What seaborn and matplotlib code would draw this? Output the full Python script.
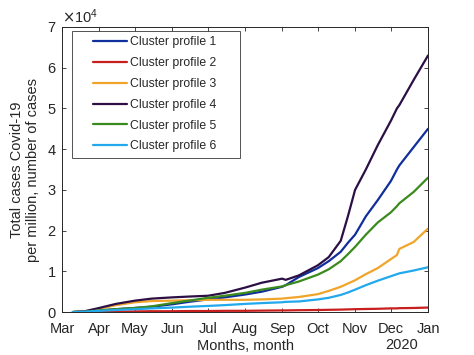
import matplotlib
matplotlib.use("Agg")
import matplotlib.pyplot as plt
import matplotlib.dates as mdates
from matplotlib.ticker import ScalarFormatter
from matplotlib.legend_handler import HandlerLine2D
from matplotlib.transforms import blended_transform_factory
import numpy as np
import pandas as pd
import seaborn as sns

# sample dates (shared by all profiles)
dates = ["2020-03-10", "2020-03-20", "2020-04-01", "2020-04-15", "2020-05-01",
         "2020-05-15", "2020-06-01", "2020-06-15", "2020-07-01", "2020-07-15",
         "2020-08-01", "2020-08-15", "2020-09-01", "2020-09-04", "2020-09-15",
         "2020-10-01", "2020-10-10", "2020-10-20", "2020-10-26", "2020-11-01",
         "2020-11-10", "2020-11-20", "2020-12-01", "2020-12-06", "2020-12-08",
         "2020-12-20", "2021-01-01"]

# total cases per million, in units of 1e4
profile1 = [0, 0.01, 0.04, 0.07, 0.1, 0.13, 0.19, 0.25, 0.31, 0.36, 0.43, 0.5, 0.62, 0.66,
            0.86, 1.08, 1.25, 1.48, 1.7, 1.9, 2.35, 2.75, 3.22, 3.5, 3.6, 4.05, 4.5]
profile2 = [0, 0, 0.005, 0.01, 0.015, 0.02, 0.02, 0.025, 0.025, 0.03, 0.03, 0.035, 0.04, 0.04,
            0.045, 0.05, 0.055, 0.06, 0.065, 0.07, 0.075, 0.08, 0.09, 0.09, 0.095, 0.1, 0.11]
profile3 = [0, 0.02, 0.08, 0.17, 0.24, 0.27, 0.28, 0.29, 0.3, 0.3, 0.3, 0.31, 0.33, 0.34,
            0.37, 0.44, 0.52, 0.62, 0.7, 0.78, 0.93, 1.08, 1.3, 1.4, 1.55, 1.72, 2.05]
profile4 = [0, 0.02, 0.1, 0.2, 0.28, 0.33, 0.36, 0.38, 0.4, 0.47, 0.6, 0.72, 0.82, 0.79,
            0.9, 1.15, 1.35, 1.75, 2.35, 3.0, 3.5, 4.1, 4.7, 5.0, 5.08, 5.7, 6.3]
profile5 = [0, 0.01, 0.04, 0.07, 0.1, 0.14, 0.22, 0.28, 0.35, 0.4, 0.47, 0.55, 0.63, 0.66,
            0.75, 0.92, 1.05, 1.25, 1.42, 1.6, 1.9, 2.2, 2.45, 2.6, 2.67, 2.95, 3.3]
profile6 = [0, 0.01, 0.03, 0.05, 0.07, 0.09, 0.11, 0.13, 0.15, 0.17, 0.2, 0.22, 0.24, 0.25,
            0.26, 0.31, 0.35, 0.42, 0.48, 0.55, 0.66, 0.77, 0.88, 0.93, 0.95, 1.02, 1.1]

names = ["Cluster profile 1", "Cluster profile 2", "Cluster profile 3",
         "Cluster profile 4", "Cluster profile 5", "Cluster profile 6"]
colors = ["#102e9c", "#c81e1e", "#f0a52a", "#2b0f45", "#3b8a1e", "#22a8ec"]


class LeadLine(HandlerLine2D):
    # legend line with empty space in front of it (matlab-like legend)
    lead = 1.25

    def create_artists(self, legend, orig_handle, xdescent, ydescent, width, height, fontsize, trans):
        pad = self.lead * fontsize
        return super().create_artists(legend, orig_handle, xdescent - pad, ydescent,
                                      width - pad, height, fontsize, trans)


series = [profile1, profile2, profile3, profile4, profile5, profile6]
frames = []
for name, vals in zip(names, series):
    frames.append(pd.DataFrame({"date": pd.to_datetime(dates),
                                "cases": np.array(vals) * 1e4,
                                "profile": name}))
df = pd.concat(frames, ignore_index=True)

sns.set_theme(style="ticks")
plt.rcParams["font.family"] = ["Liberation Sans", "DejaVu Sans"]

fig = plt.figure(figsize=(4.74, 3.55), dpi=100)
ax = fig.add_axes([0.131, 0.121, 0.772, 0.803])

sns.lineplot(data=df, x="date", y="cases", hue="profile", palette=colors,
             linewidth=1.6, ax=ax)

ax.set_xlim(pd.Timestamp("2020-03-01"), pd.Timestamp("2021-01-01"))
ax.set_ylim(0, 7e4)
ax.xaxis.set_major_locator(mdates.MonthLocator())
ax.xaxis.set_major_formatter(mdates.DateFormatter("%b"))
ax.set_yticks(np.arange(0, 8) * 1e4)
fmt = ScalarFormatter(useMathText=True)
fmt.set_powerlimits((0, 0))
ax.yaxis.set_major_formatter(fmt)
ax.yaxis.get_offset_text().set_fontsize(10.5)

ax.tick_params(direction="in", top=True, right=True, length=3, width=0.6,
               labelsize=10.5, colors="#262626")
ax.tick_params(axis="x", pad=7)
ax.tick_params(axis="y", pad=4)
for sp in ax.spines.values():
    sp.set_linewidth(0.7)
    sp.set_color("#262626")

ax.set_xlabel("Months, month", fontsize=10.5, labelpad=2)
ax.set_ylabel("Total cases Covid-19\nper million, number of cases", fontsize=10.5, labelpad=5)
tr = blended_transform_factory(ax.transAxes, fig.transFigure)
ax.text(0.929, 0.028, "2020", transform=tr, ha="center", va="center",
        fontsize=10.5, color="#262626")

handles, labels = ax.get_legend_handles_labels()
leg = ax.legend(handles, labels, loc="upper left", bbox_to_anchor=(0.027, 0.5, 0.459, 0.486),
                mode="expand", borderaxespad=0, fontsize=8.8,
                frameon=True, fancybox=False, edgecolor="#262626",
                handlelength=4.05, handletextpad=0.25, labelspacing=0.72, borderpad=0.45,
                handler_map={h: LeadLine() for h in handles})
leg.get_frame().set_linewidth(0.7)

fig.savefig("out.png", dpi=100)
